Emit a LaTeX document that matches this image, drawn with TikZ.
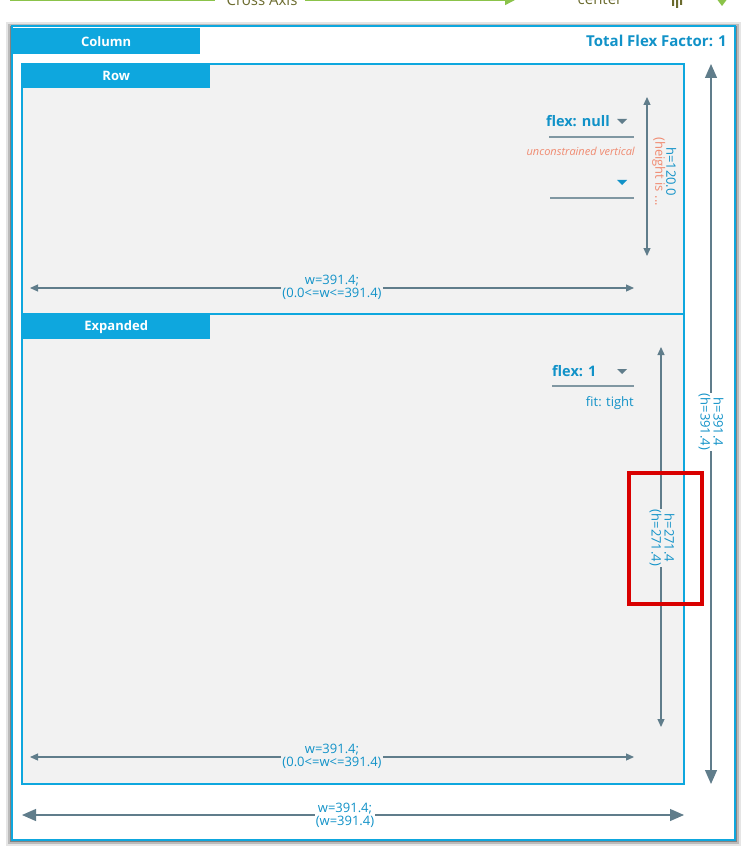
\documentclass[tikz,border=0pt]{standalone}
\usepackage{fontspec}
\setmainfont{Open Sans}
\usetikzlibrary{arrows.meta}
\definecolor{fblue}{HTML}{0EA7DE}
\definecolor{tblue}{HTML}{1192C8}
\definecolor{agray}{HTML}{607D8B}
\definecolor{salm}{HTML}{F08A70}
\definecolor{bgg}{HTML}{F2F2F2}
\definecolor{grn}{HTML}{8BC34A}
\definecolor{olive}{HTML}{6B6B2E}
\tikzset{
 x=1pt,y=-1pt,
 dim/.style={draw=agray,line width=1.2pt,{Triangle[length=8pt,width=7pt]}-{Triangle[length=8pt,width=7pt]}},
 dimlbl/.style={fill=bgg,text=tblue,font=\fontsize{13}{13}\selectfont,align=center,inner sep=1pt},
 tab/.style={fill=fblue,text=white,font=\fontsize{13}{14}\selectfont\bfseries,anchor=north west,inner sep=0pt,align=center},
 sel/.style={text=tblue,font=\fontsize{14.5}{15}\selectfont\bfseries,inner sep=0pt},
}
\begin{document}
\begin{tikzpicture}
\clip (0,0) rectangle (745,853);
\useasboundingbox (0,0) rectangle (745,853);
\fill[white] (0,0) rectangle (745,853);
% top strip
\draw[grn,line width=1.5pt] (10,0) -- (215,0);
\draw[grn,line width=1.5pt,-{Triangle[length=10pt,width=10pt]}] (305,0) -- (515,0);
\node[text=olive,font=\fontsize{15}{15}\selectfont] (ca) at (262,0) {Cross Axis};
\node[text=olive,font=\fontsize{15}{15}\selectfont] (ce) at (600,0) {center};
\fill[olive] (672,0) rectangle (674,6) (676,-3) rectangle (678,8) (680,0) rectangle (682,5);
\fill[grn] (716,-2) -- (728,-2) -- (722,6) -- cycle;
% shadow
\foreach \i/\o in {6/10,4/18,2/30}{\fill[black,opacity=0.\o] (12-\i,26-\i+2) rectangle (735+\i,840+\i);}
% outer column box
\draw[fill=white,draw=fblue,line width=2.5pt] (12,26) rectangle (735,840);
\node[tab,minimum width=188pt,minimum height=26pt] (coltab) at (12,28) {Column};
\node[text=tblue,font=\fontsize{15}{15}\selectfont\bfseries,anchor=east,inner sep=0pt] (tff) at (727,41) {Total Flex Factor: 1};
% row box
\draw[fill=bgg,draw=fblue,line width=1.2pt] (22,64) rectangle (684,314);
\node[tab,minimum width=188pt,minimum height=24pt] (rowtab) at (22,64) {Row};
% expanded box
\draw[fill=bgg,draw=fblue,line width=1.2pt] (22,314) rectangle (684,784);
\node[tab,minimum width=188pt,minimum height=24pt] (exptab) at (22,315) {Expanded};
% row contents
\node[sel,anchor=east] (fn) at (610,121) {flex: null};
\fill[agray] (617,119) -- (627,119) -- (622,124) -- cycle;
\draw[agray!80,line width=1.3pt] (549,137) -- (634,137);
\node[text=salm,font=\fontsize{11}{11}\selectfont\itshape,anchor=east,inner sep=0pt] (unc) at (635,151) {unconstrained vertical};
\fill[tblue] (617,180) -- (627,180) -- (622,185) -- cycle;
\draw[agray!80,line width=1.3pt] (550,198) -- (634,198);
\coordinate (rv1) at (647,97); \coordinate (rv2) at (647,256);
\draw[dim] (rv1) -- (rv2);
\node[rotate=-90,text=tblue,font=\fontsize{13}{13}\selectfont,inner sep=0pt,anchor=south west] (rh) at (666,147) {h=120.0};
\node[rotate=-90,text=salm,font=\fontsize{13}{13}\selectfont,inner sep=0pt,anchor=south west] (rh2) at (652,137) {(height is ...};
\coordinate (rw1) at (30,288); \coordinate (rw2) at (634,288);
\draw[dim] (rw1) -- (rw2);
\node[dimlbl] (rwl) at (332,287) {w=391.4;\\(0.0<=w<=391.4)};
% expanded contents
\node[sel,anchor=west] (f1) at (552,371) {flex: 1};
\fill[agray] (617,369) -- (627,369) -- (622,374) -- cycle;
\draw[agray!80,line width=1.3pt] (552,386) -- (634,386);
\node[text=tblue,font=\fontsize{13}{13}\selectfont,anchor=east,inner sep=0pt] (ft) at (634,403) {fit: tight};
\coordinate (ev1) at (661,347); \coordinate (ev2) at (661,727);
\draw[dim] (ev1) -- (ev2);
\node[dimlbl,rotate=-90] (evl) at (662,538) {h=271.4\\(h=271.4)};
\coordinate (ew1) at (30,757); \coordinate (ew2) at (634,757);
\draw[dim] (ew1) -- (ew2);
\node[dimlbl] (ewl) at (332,756) {w=391.4;\\(0.0<=w<=391.4)};
% outer dims
\coordinate (ov1) at (711,64); \coordinate (ov2) at (711,784);
\draw[dim,{Triangle[length=14pt,width=12pt]}-{Triangle[length=14pt,width=12pt]}] (ov1) -- (ov2);
\node[dimlbl,fill=white,rotate=-90] (ovl) at (711,422) {h=391.4\\(h=391.4)};
\coordinate (ow1) at (22,815); \coordinate (ow2) at (684,815);
\draw[dim,{Triangle[length=14pt,width=12pt]}-{Triangle[length=14pt,width=12pt]}] (ow1) -- (ow2);
\node[dimlbl,fill=white] (owl) at (345,815) {w=391.4;\\(w=391.4)};
% highlight
\draw[red!85!black,line width=3.5pt] (629,473) rectangle (702,604);
\end{tikzpicture}
\end{document}
